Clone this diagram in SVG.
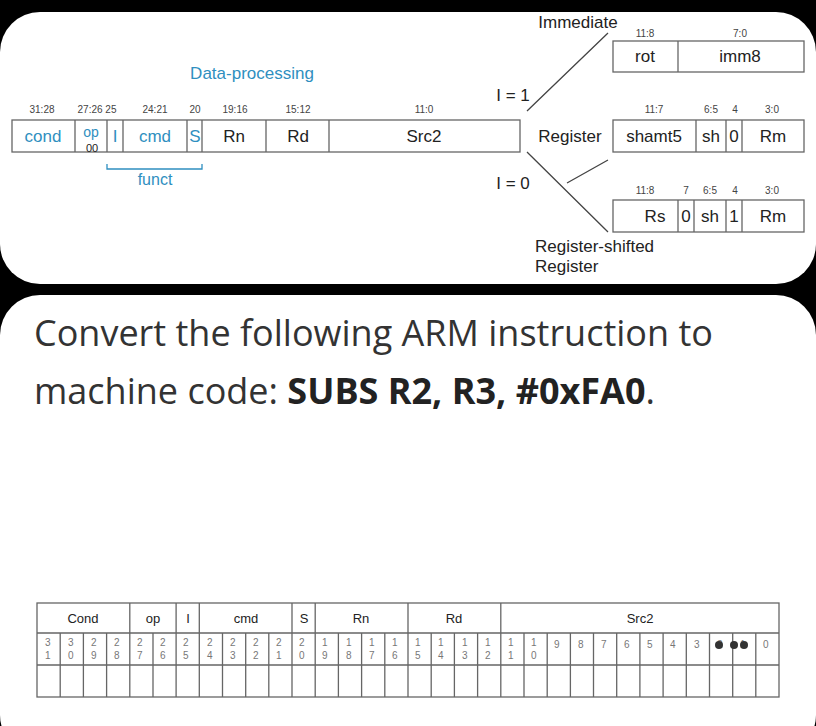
<svg xmlns="http://www.w3.org/2000/svg" width="816" height="726" viewBox="0 0 816 726">
<style>
.b{fill:none;stroke:#666;stroke-width:1.3}
.t{font-family:"Liberation Sans",Arial,sans-serif;fill:#222;text-anchor:middle}
.blu{fill:#2f8fc0}
.f{font-size:17px}
.s{font-size:10px;fill:#444}
.g{font-size:10px;fill:#777}
.ln{stroke:#444;stroke-width:1.3;fill:none}
</style>
<rect width="816" height="726" fill="#000"/>
<rect x="0" y="12" width="816" height="272" rx="40" fill="#fff"/>
<rect x="0" y="295" width="816" height="460" rx="40" fill="#fff"/>
<g id="main">
<rect class="b" x="12" y="120" width="508" height="32"/>
<path class="b" d="M75 120V152M107 120V152M123 120V152M187 120V152M202 120V152M266 120V152M329 120V152"/>
<text class="t s" x="42" y="113">31:28</text><text class="t s" x="97" y="113">27:26 25</text><text class="t s" x="155" y="113">24:21</text><text class="t s" x="195" y="113">20</text><text class="t s" x="235" y="113">19:16</text><text class="t s" x="298" y="113">15:12</text><text class="t s" x="424" y="113">11:0</text>
<text class="t f blu" x="43" y="142">cond</text><text class="t blu" x="91" y="137" font-size="14">op</text><text class="t" x="92" y="152" font-size="11" fill="#555">00</text>
<text class="t f blu" x="115" y="142">I</text><text class="t f blu" x="155" y="142">cmd</text><text class="t f blu" x="195" y="142">S</text>
<text class="t f" x="234" y="142">Rn</text><text class="t f" x="298" y="142">Rd</text><text class="t f" x="424" y="142">Src2</text>
<path d="M107 164V169H202V164" stroke="#2f8fc0" stroke-width="1.3" fill="none"/>
<text class="t blu" x="155" y="185" font-size="16">funct</text>
<text class="t f blu" x="252" y="79">Data-processing</text>
</g>
<g id="imm">
<text class="t f" x="578" y="28">Immediate</text>
<text class="t s" x="645" y="37">11:8</text><text class="t s" x="740" y="37">7:0</text>
<rect class="b" x="613" y="41" width="191" height="31"/><path class="b" d="M678 41V72"/>
<text class="t f" x="645" y="62">rot</text><text class="t f" x="740" y="62">imm8</text>
</g>
<g id="reg">
<text class="t f" x="570" y="142">Register</text>
<text class="t s" x="654" y="113">11:7</text><text class="t s" x="711" y="113">6:5</text><text class="t s" x="735" y="113">4</text><text class="t s" x="772" y="113">3:0</text>
<rect class="b" x="613" y="120" width="191" height="32"/><path class="b" d="M696 120V152M726 120V152M742 120V152"/>
<text class="t f" x="654" y="142">shamt5</text><text class="t f" x="711" y="142">sh</text><text class="t f" x="734" y="142">0</text><text class="t f" x="773" y="142">Rm</text>
</g>
<g id="regsh">
<text class="t s" x="645" y="194">11:8</text><text class="t s" x="686" y="194">7</text><text class="t s" x="710" y="194">6:5</text><text class="t s" x="735" y="194">4</text><text class="t s" x="772" y="194">3:0</text>
<rect class="b" x="613" y="200" width="191" height="32"/><path class="b" d="M678 200V232M694 200V232M726 200V232M742 200V232"/>
<text class="t f" x="655" y="222">Rs</text><text class="t f" x="686" y="222">0</text><text class="t f" x="710" y="222">sh</text><text class="t f" x="734" y="222">1</text><text class="t f" x="773" y="222">Rm</text>
<text class="t f" x="535" y="252" style="text-anchor:start">Register-shifted</text>
<text class="t f" x="535" y="272" style="text-anchor:start">Register</text>
</g>
<g id="connectors">
<path class="ln" d="M527 111L608 33M567 183L608 160M527 152L608 232"/>
<text class="t f" x="513" y="101">I = 1</text>
<text class="t f" x="513" y="189">I = 0</text>
</g>
<g id="question" font-family="'Open Sans','Noto Sans',sans-serif" font-size="36" fill="#333">
<text x="34" y="346">Convert the following ARM instruction to</text>
<text x="34" y="404">machine code: <tspan font-weight="bold" fill="#222">SUBS R2, R3, #0xFA0</tspan>.</text>
</g>
<g id="table">
<rect class="b" x="37" y="603" width="742" height="94"/>
<path class="b" d="M37 633H779M37 665H779"/>
<path class="b" d="M129.8 603V697M176.1 603V697M199.3 603V697M292 603V697M315.2 603V697M408 603V697M500.8 603V697"/>
<path class="b" d="M60.2 633V697M83.4 633V697M106.6 633V697M153 633V697M222.5 633V697M245.7 633V697M268.8 633V697M338.4 633V697M361.6 633V697M384.8 633V697M431.2 633V697M454.4 633V697M477.6 633V697M524 633V697M547.2 633V697M570.4 633V697M593.5 633V697M616.7 633V697M639.9 633V697M663.1 633V697M686.3 633V697M709.5 633V697M732.7 633V697M755.8 633V697"/>
<g class="t" font-size="13"><text x="83" y="623">Cond</text><text x="153" y="623">op</text><text x="188" y="623">I</text><text x="246" y="623">cmd</text><text x="304" y="623">S</text><text x="361" y="623">Rn</text><text x="454" y="623">Rd</text><text x="640" y="623">Src2</text></g>
<g class="t g" style="text-anchor:start">
<text x="45" y="646">3</text><text x="45" y="659">1</text><text x="68" y="646">3</text><text x="68" y="659">0</text><text x="91" y="646">2</text><text x="91" y="659">9</text><text x="114" y="646">2</text><text x="114" y="659">8</text><text x="137" y="646">2</text><text x="137" y="659">7</text><text x="160" y="646">2</text><text x="160" y="659">6</text><text x="183" y="646">2</text><text x="183" y="659">5</text><text x="207" y="646">2</text><text x="207" y="659">4</text><text x="230" y="646">2</text><text x="230" y="659">3</text><text x="253" y="646">2</text><text x="253" y="659">2</text><text x="276" y="646">2</text><text x="276" y="659">1</text><text x="299" y="646">2</text><text x="299" y="659">0</text><text x="322" y="646">1</text><text x="322" y="659">9</text><text x="346" y="646">1</text><text x="346" y="659">8</text><text x="369" y="646">1</text><text x="369" y="659">7</text><text x="392" y="646">1</text><text x="392" y="659">6</text><text x="415" y="646">1</text><text x="415" y="659">5</text><text x="438" y="646">1</text><text x="438" y="659">4</text><text x="462" y="646">1</text><text x="462" y="659">3</text><text x="485" y="646">1</text><text x="485" y="659">2</text><text x="508" y="646">1</text><text x="508" y="659">1</text><text x="531" y="646">1</text><text x="531" y="659">0</text>
<text x="554" y="648">9</text><text x="578" y="648">8</text><text x="601" y="648">7</text><text x="624" y="648">6</text><text x="647" y="648">5</text><text x="670" y="648">4</text><text x="694" y="648">3</text><text x="717" y="648">2</text><text x="740" y="648">1</text><text x="763" y="648">0</text>
</g>
<g fill="#333"><ellipse cx="719" cy="645" rx="4" ry="4"/><ellipse cx="734" cy="645" rx="4" ry="4"/><ellipse cx="744" cy="645" rx="4" ry="4"/></g>
</g>
</svg>
